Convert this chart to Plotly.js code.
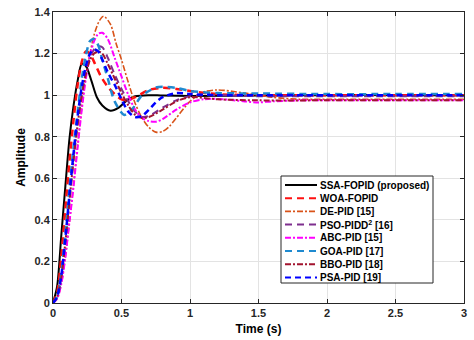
<!DOCTYPE html>
<html>
<head>
<meta charset="utf-8">
<script src="https://cdn.plot.ly/plotly-3.0.1.min.js"></script>
<style>html,body{margin:0;padding:0;background:#fff;}#chart{width:474px;height:340px;}</style>
</head>
<body>
<div id="chart"></div>
<script>
// ---- data ----
const seriesNames = ["SSA-FOPID (proposed)", "WOA-FOPID", "DE-PID [15]", "PSO-PIDD<sup>2</sup> [16]", "ABC-PID [15]", "GOA-PID [17]", "BBO-PID [18]", "PSA-PID [19]"];

const tSSA = [0,0.03,0.06,0.09,0.12,0.15,0.18,0.21,0.24,0.28,0.32,0.36,0.42,0.48,0.54,0.6,0.7,0.8,1.0,1.5,2,2.5,3];
const ySSA = [0,0.08,0.32,0.56,0.79,0.95,1.07,1.15,1.14,1.07,0.99,0.95,0.925,0.94,0.975,0.995,1.0,0.998,0.996,0.998,1.0,1.0,1.0];

const tWOA = [0,0.03,0.06,0.09,0.12,0.15,0.18,0.21,0.24,0.27,0.3,0.35,0.4,0.45,0.5,0.55,0.6,0.7,0.8,0.9,1.0,1.2,1.5,2,2.5,3];
const yWOA = [0,0.05,0.22,0.45,0.68,0.88,1.05,1.16,1.21,1.2,1.16,1.09,1.04,1.005,0.98,0.978,0.99,1.025,1.035,1.03,1.02,1.005,1.0,1.0,1.0,1.0];

const tDE = [0,0.03,0.06,0.09,0.12,0.15,0.18,0.21,0.24,0.27,0.3,0.34,0.37,0.42,0.46,0.5,0.55,0.6,0.65,0.7,0.75,0.8,0.85,0.9,1.0,1.1,1.2,1.4,1.6,1.8,2,2.5,3];
const yDE = [0,0.02,0.09,0.22,0.39,0.57,0.76,0.94,1.09,1.2,1.29,1.36,1.38,1.34,1.25,1.17,1.06,0.96,0.89,0.845,0.822,0.825,0.85,0.89,0.97,1.015,1.025,1.01,0.99,0.98,0.98,0.98,0.98];

const tPSO = [0,0.03,0.06,0.09,0.12,0.15,0.18,0.21,0.24,0.27,0.3,0.33,0.36,0.4,0.45,0.5,0.55,0.6,0.65,0.7,0.8,0.9,1.0,1.2,1.5,2,2.5,3];
const yPSO = [0,0.03,0.12,0.29,0.49,0.69,0.86,1.0,1.11,1.18,1.22,1.235,1.23,1.18,1.1,1.03,0.97,0.92,0.895,0.9,0.94,0.975,0.995,1.0,0.995,0.995,0.995,0.995];

const tABC = [0,0.03,0.06,0.09,0.12,0.15,0.18,0.21,0.24,0.27,0.3,0.33,0.36,0.4,0.45,0.5,0.55,0.6,0.65,0.7,0.75,0.8,0.9,1.0,1.1,1.2,1.4,1.5,1.6,1.8,2,2.5,3];
const yABC = [0,0.02,0.09,0.22,0.39,0.56,0.75,0.93,1.08,1.19,1.26,1.295,1.30,1.27,1.18,1.09,1.0,0.93,0.89,0.875,0.872,0.885,0.93,0.965,0.98,0.982,0.97,0.965,0.97,0.975,0.975,0.975,0.975];

const tGOA = [0,0.03,0.06,0.09,0.12,0.15,0.18,0.21,0.24,0.27,0.3,0.33,0.36,0.4,0.45,0.52,0.58,0.65,0.7,0.75,0.8,0.9,1.0,1.2,1.5,2,2.5,3];
const yGOA = [0,0.03,0.14,0.33,0.55,0.75,0.92,1.08,1.19,1.26,1.27,1.24,1.17,1.08,0.97,0.905,0.935,1.0,1.02,1.037,1.04,1.035,1.02,1.01,1.008,1.005,1.005,1.005];

const tBBO = [0,0.03,0.06,0.09,0.12,0.15,0.18,0.21,0.24,0.27,0.3,0.33,0.36,0.4,0.45,0.5,0.55,0.6,0.65,0.7,0.8,0.9,1.0,1.2,1.5,2,2.5,3];
const yBBO = [0,0.03,0.12,0.29,0.49,0.69,0.86,1.0,1.1,1.17,1.2,1.21,1.2,1.15,1.08,1.01,0.95,0.905,0.89,0.895,0.93,0.97,0.99,0.98,0.975,0.975,0.975,0.975];

const tPSA = [0,0.03,0.06,0.09,0.12,0.15,0.18,0.21,0.24,0.27,0.3,0.33,0.36,0.4,0.45,0.5,0.55,0.6,0.65,0.7,0.75,0.8,0.9,1.0,1.2,1.5,2,2.5,3];
const yPSA = [0,0.03,0.13,0.31,0.52,0.72,0.9,1.04,1.14,1.2,1.22,1.21,1.17,1.11,1.05,0.98,0.92,0.895,0.9,0.93,0.965,0.99,1.01,1.005,1.0,1.0,1.0,1.0,1.0];

const xTicks = [0, 0.5, 1, 1.5, 2, 2.5, 3];
const yTicks = [0, 0.2, 0.4, 0.6, 0.8, 1, 1.2, 1.4];
const yTickText = ["0", "0.2", "0.4", "0.6", "0.8", "1", "1.2", "1.4"];

// ---- styles ----
const xs = [tSSA, tWOA, tDE, tPSO, tABC, tGOA, tBBO, tPSA];
const ys = [ySSA, yWOA, yDE, yPSO, yABC, yGOA, yBBO, yPSA];
const styles = [
  {color: '#000000', width: 2, dash: 'solid'},
  {color: '#ff1010', width: 2.5, dash: '7px,5px'},
  {color: '#D95319', width: 1.6, dash: '6px,2px,2px,2px'},
  {color: '#7E2F8E', width: 2, dash: '7px,5px'},
  {color: '#ff00ff', width: 2, dash: '6px,2px,2px,2px'},
  {color: '#1f8ad0', width: 2.5, dash: '7px,5px'},
  {color: '#A2142F', width: 2, dash: '6px,2px,2px,2px'},
  {color: '#0000ff', width: 2.5, dash: '6px,4px'}
];

const traces = xs.map((x, i) => ({
  x: x, y: ys[i], type: 'scatter', mode: 'lines', name: seriesNames[i],
  line: {color: styles[i].color, width: styles[i].width, dash: styles[i].dash, shape: 'spline', smoothing: 0.8},
  showlegend: false, hoverinfo: 'skip'
}));

// ---- custom legend (pixel geometry -> paper coords) ----
const L = 53, R = 464, T = 12, B = 303;
const px = v => (v - L) / (R - L);
const py = v => (B - v) / (B - T);
const shapes = [{type: 'rect', xref: 'paper', yref: 'paper', x0: px(281), x1: px(433), y0: py(283), y1: py(176),
  line: {color: '#262626', width: 1}, fillcolor: '#ffffff', layer: 'above'}];
const annotations = [];
seriesNames.forEach((n, i) => {
  const yy = 185 + i * 13.2;
  shapes.push({type: 'line', xref: 'paper', yref: 'paper', x0: px(285), x1: px(317), y0: py(yy), y1: py(yy),
    line: {color: styles[i].color, width: Math.min(styles[i].width, 2), dash: styles[i].dash}, layer: 'above'});
  annotations.push({xref: 'paper', yref: 'paper', x: px(318), y: py(yy), xanchor: 'left', yanchor: 'middle',
    text: n, showarrow: false, font: {family: 'Liberation Sans, Arial, sans-serif', size: 10, color: '#000', weight: 'bold'}});
});

const tickFont = {family: 'Liberation Sans, Arial, sans-serif', size: 11, color: '#262626', weight: 'bold'};
const layout = {
  width: 474, height: 340,
  margin: {l: L, r: 474 - R, t: T, b: 340 - B},
  paper_bgcolor: '#ffffff', plot_bgcolor: '#ffffff',
  showlegend: false,
  xaxis: {range: [0, 3], tickvals: xTicks, ticktext: xTicks.map(String), ticks: 'inside', ticklen: 4, tickcolor: '#262626',
    showline: true, linecolor: '#262626', linewidth: 1, mirror: 'ticks', showgrid: true, gridcolor: '#e3e3e3', gridwidth: 1,
    zeroline: false, tickfont: tickFont,
    title: {text: 'Time (s)', font: {family: 'Liberation Sans, Arial, sans-serif', size: 12, color: '#000', weight: 'bold'}, standoff: 6}},
  yaxis: {range: [0, 1.4], tickvals: yTicks, ticktext: yTickText, ticks: 'inside', ticklen: 4, tickcolor: '#262626',
    showline: true, linecolor: '#262626', linewidth: 1, mirror: 'ticks', showgrid: true, gridcolor: '#e3e3e3', gridwidth: 1,
    zeroline: false, tickfont: tickFont,
    title: {text: 'Amplitude', font: {family: 'Liberation Sans, Arial, sans-serif', size: 12, color: '#000', weight: 'bold'}, standoff: 6}},
  shapes: shapes,
  annotations: annotations
};

Plotly.newPlot('chart', traces, layout, {staticPlot: true, displayModeBar: false});
</script>
</body>
</html>
